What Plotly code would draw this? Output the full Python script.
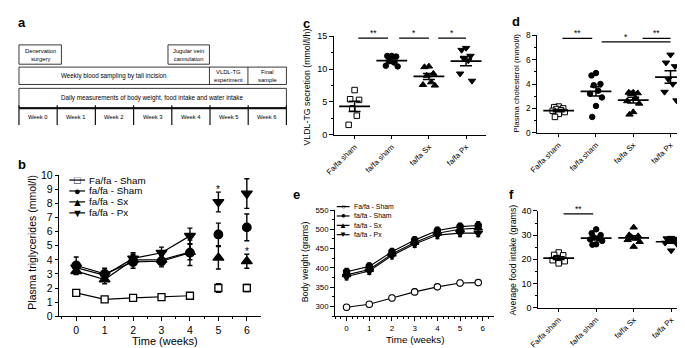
import numpy as np
import plotly.graph_objects as go

W, H = 685, 348
FONT = "Liberation Sans, Arial, sans-serif"


def fx(p):
    return p / W


def fy(p):
    return 1 - p / H


# ---------------- data ----------------
# panel b : plasma triglycerides (mmol/l)
WEEKS = [0, 1, 2, 3, 4, 5, 6]
N_JOINED = 5  # weeks 0-4 are joined by lines
SERIES_NAMES = ["Fa/fa - Sham", "fa/fa - Sham", "fa/fa - Sx", "fa/fa - Px"]
TG_LEAN_SHAM = [1.65, 1.2, 1.3, 1.35, 1.45, 2.0, 2.0]
TG_LEAN_SHAM_SEM = [0.08, 0.07, 0.07, 0.07, 0.07, 0.3, 0.25]
TG_OBESE_SHAM = [3.6, 3.0, 3.85, 3.9, 4.5, 5.8, 6.3]
TG_OBESE_SHAM_SEM = [0.6, 0.4, 0.45, 0.4, 0.9, 0.8, 0.95]
TG_SX = [3.2, 2.6, 4.0, 4.0, 4.55, 4.15, 3.9]
TG_SX_SEM = [0.25, 0.3, 0.4, 0.35, 0.55, 0.8, 0.5]
TG_PX = [3.45, 2.9, 4.1, 4.5, 5.7, 8.1, 8.7]
TG_PX_SEM = [0.3, 0.35, 0.4, 0.4, 0.55, 0.7, 1.05]
TG_STAR_WEEKS = [5, 6]
TG_STAR_Y = [9.0, 4.6]

# panel e : body weight (grams)
BW_WEEKS = [0, 1, 2, 3, 4, 5, 5.8]
BW_LEAN_SHAM = [298, 306, 322, 338, 351, 361, 362]
BW_LEAN_SHAM_SEM = [6, 7, 7, 7, 7, 7, 7]
BW_OBESE_SHAM = [390, 404, 442, 472, 497, 507, 510]
BW_OBESE_SHAM_SEM = [9, 9, 9, 9, 9, 9, 10]
BW_SX = [382, 396, 436, 466, 490, 500, 503]
BW_SX_SEM = [9, 9, 9, 9, 9, 9, 9]
BW_PX = [378, 392, 432, 462, 485, 490, 490]
BW_PX_SEM = [9, 9, 9, 9, 9, 9, 9]

# panels c, d, f : dot plots
CATEGORIES = ["Fa/fa sham", "fa/fa sham", "fa/fa Sx", "fa/fa Px"]
VLDL_LEAN_SHAM = [6.8, 5.4, 5.3, 4.0, 2.9, 1.5]
VLDL_OBESE_SHAM = [12.0, 11.9, 12.0, 11.2, 11.0, 10.5, 10.4]
VLDL_SX = [10.4, 10.3, 9.3, 9.0, 8.0, 7.5, 7.6]
VLDL_PX = [13.2, 12.9, 12.0, 11.6, 11.3, 9.3, 8.2]
VLDL_SIG_X0 = [0.1, 1.2, 2.25]
VLDL_SIG_X1 = [0.9, 2.0, 3.0]
VLDL_SIG_Y = [14.7, 14.7, 14.7]
VLDL_SIG_TEXT = ["**", "*", "*"]

CHOL_LEAN_SHAM = [2.15, 2.1, 2.0, 1.95, 1.85, 1.8, 1.7, 1.55, 1.3]
CHOL_OBESE_SHAM = [4.9, 4.7, 4.0, 3.9, 3.45, 3.2, 2.9, 2.2, 1.3]
CHOL_SX = [3.3, 3.3, 3.25, 3.2, 2.85, 2.6, 2.4, 1.7, 1.5]
CHOL_PX = [6.4, 5.75, 5.45, 4.4, 4.0, 3.35, 2.65]
CHOL_SIG_X0 = [0.1, 1.15, 2.25]
CHOL_SIG_X1 = [0.9, 3.0, 3.0]
CHOL_SIG_Y = [7.75, 7.45, 7.75]
CHOL_SIG_STAR_X = [0.5, 1.8, 2.62]
CHOL_SIG_TEXT = ["**", "*", "**"]

FOOD_LEAN_SHAM = [22.8, 21.8, 21.6, 20.4, 20.0, 19.6, 19.2, 18.3]
FOOD_OBESE_SHAM = [32.4, 30.8, 30.0, 29.0, 28.6, 28.2, 27.6, 26.2, 26.0]
FOOD_SX = [33.2, 30.0, 29.6, 29.2, 28.6, 28.0, 27.2, 25.2]
FOOD_PX = [28.8, 28.6, 28.4, 28.0, 27.6, 26.8, 26.2, 23.6]
FOOD_SIG_X0 = [0.13]
FOOD_SIG_X1 = [0.92]
FOOD_SIG_Y = [38.8]
FOOD_SIG_TEXT = ["**"]

# panel a : protocol schematic
WEEK_LABELS = ["Week 0", "Week 1", "Week 2", "Week 3", "Week 4", "Week 5", "Week 6"]

# ---------------- style ----------------
SYMBOLS = ["square", "circle", "triangle-up", "triangle-down"]
FILLS = ["white", "black", "black", "black"]
JITTER = [0.0, -0.12, 0.12, -0.06, 0.06, -0.16, 0.16, 0.0, -0.1]

fig = go.Figure()
shapes = []
annotations = []


def ann(text, x, y, size, xanchor="center", yanchor="middle", angle=0,
        bold=False, xref="paper", yref="paper"):
    if xref == "paper":
        x = fx(x)
    if yref == "paper":
        y = fy(y)
    annotations.append(dict(
        text=f"<b>{text}</b>" if bold else text, x=x, y=y, xref=xref, yref=yref,
        xanchor=xanchor, yanchor=yanchor, textangle=angle, showarrow=False,
        font=dict(family=FONT, size=size, color="black"), borderpad=0))


def line_shape(x0, y0, x1, y1, w=0.8, color="#222"):
    shapes.append(dict(type="line", xref="paper", yref="paper", x0=fx(x0), x1=fx(x1),
                       y0=fy(y0), y1=fy(y1), line=dict(color=color, width=w)))


def rect_shape(x0, y0, x1, y1, w=0.9):
    shapes.append(dict(type="rect", xref="paper", yref="paper", x0=fx(x0), x1=fx(x1),
                       y0=fy(y1), y1=fy(y0), line=dict(color="#222", width=w)))


# ---------------- panel a ----------------
ann("a", 5, 9, 13, bold=True)
rect_shape(2, 32, 45, 52)
ann("Denervation<br>surgery", 23.5, 42, 5.8)
rect_shape(153, 32, 195, 52)
ann("Jugular vein<br>cannulation", 174, 42, 5.8)
rect_shape(2, 55, 273, 73)
line_shape(195, 55, 195, 73, w=0.9)
line_shape(234, 55, 234, 73, w=0.9)
ann("Weekly blood sampling by tail incision", 98, 64, 6.3)
ann("VLDL-TG<br>experiment", 214.5, 64, 5.8)
ann("Final<br>sample", 253.5, 64, 5.8)
rect_shape(2, 77, 273, 97)
ann("Daily measurements of body weight, food intake and water intake", 137, 87, 6.3)
line_shape(2, 97.5, 273, 97.5, w=2, color="#111")
bounds = np.linspace(2, 273, len(WEEK_LABELS) + 1)
for bx in bounds:
    line_shape(bx, 94.5, bx, 115, w=1.2, color="#111")
for i, lab in enumerate(WEEK_LABELS):
    ann(lab, (bounds[i] + bounds[i + 1]) / 2, 107, 5.8)

# ---------------- panel b ----------------
b_vals = [TG_LEAN_SHAM, TG_OBESE_SHAM, TG_SX, TG_PX]
b_sems = [TG_LEAN_SHAM_SEM, TG_OBESE_SHAM_SEM, TG_SX_SEM, TG_PX_SEM]
b_sizes = [7, 8.5, 9.5, 9.5]
for k in range(4):
    fig.add_trace(go.Scatter(
        x=WEEKS[:N_JOINED], y=b_vals[k][:N_JOINED], mode="lines",
        line=dict(color="black", width=1.2), xaxis="x", yaxis="y", hoverinfo="skip"))
for k in [1, 2, 3, 0]:
    fig.add_trace(go.Scatter(
        x=WEEKS, y=b_vals[k], mode="markers", name=SERIES_NAMES[k],
        marker=dict(symbol=SYMBOLS[k], size=b_sizes[k], color=FILLS[k],
                    line=dict(color="black", width=1.3)),
        error_y=dict(type="data", array=b_sems[k], color="black", thickness=1.4, width=2.5),
        xaxis="x", yaxis="y"))
for wk, yv in zip(TG_STAR_WEEKS, TG_STAR_Y):
    ann("*", wk, yv, 10, xref="x", yref="y")

# ---------------- panel e ----------------
e_vals = [BW_LEAN_SHAM, BW_OBESE_SHAM, BW_SX, BW_PX]
e_sems = [BW_LEAN_SHAM_SEM, BW_OBESE_SHAM_SEM, BW_SX_SEM, BW_PX_SEM]
e_sym = ["circle", "circle", "triangle-up", "triangle-down"]
e_sizes = [6.5, 6.5, 7.5, 7.5]
for k in [1, 2, 3, 0]:
    fig.add_trace(go.Scatter(
        x=BW_WEEKS, y=e_vals[k], mode="lines+markers", name=SERIES_NAMES[k],
        line=dict(color="black", width=1.1),
        marker=dict(symbol=e_sym[k], size=e_sizes[k], color=FILLS[k],
                    line=dict(color="black", width=1.1)),
        error_y=dict(type="data", array=e_sems[k], color="black", thickness=1.1, width=2),
        xaxis="x4", yaxis="y4"))


# ---------------- dot plots c, d, f ----------------
def dot_panel(groups, xa, ya, sig_x0, sig_x1, sig_y, sig_text, star_x=None,
              mean_len=22, dot=5.5):
    for i, vals in enumerate(groups):
        order = np.argsort(vals)[::-1]
        xs = [i + JITTER[r % len(JITTER)] for r in range(len(vals))]
        ys = [vals[j] for j in order]
        size = dot + 1 if "triangle" in SYMBOLS[i] else dot
        fig.add_trace(go.Scatter(
            x=xs, y=ys, mode="markers",
            marker=dict(symbol=SYMBOLS[i], size=size, color=FILLS[i],
                        line=dict(color="black", width=1)),
            xaxis=xa, yaxis=ya))
        arr = np.array(vals, dtype=float)
        mean = arr.mean()
        sem = arr.std(ddof=1) / np.sqrt(len(arr))
        fig.add_trace(go.Scatter(
            x=[i], y=[mean], mode="markers",
            marker=dict(symbol="line-ew", size=mean_len, color="black",
                        line=dict(color="black", width=1.7)),
            error_y=dict(type="data", array=[sem], color="black", thickness=1.5, width=6),
            xaxis=xa, yaxis=ya))
    for n, (a0, a1, yv) in enumerate(zip(sig_x0, sig_x1, sig_y)):
        fig.add_trace(go.Scatter(x=[a0, a1], y=[yv, yv], mode="lines",
                                 line=dict(color="black", width=1.3),
                                 xaxis=xa, yaxis=ya))
        sx = star_x[n] if star_x else (a0 + a1) / 2
        annotations.append(dict(text=sig_text[n], x=sx, y=yv, xref=xa, yref=ya,
                                xanchor="center", yanchor="bottom", showarrow=False,
                                yshift=-2, font=dict(family=FONT, size=8.5, color="black")))


dot_panel([VLDL_LEAN_SHAM, VLDL_OBESE_SHAM, VLDL_SX, VLDL_PX], "x2", "y2",
          VLDL_SIG_X0, VLDL_SIG_X1, VLDL_SIG_Y, VLDL_SIG_TEXT)
dot_panel([CHOL_LEAN_SHAM, CHOL_OBESE_SHAM, CHOL_SX, CHOL_PX], "x3", "y3",
          CHOL_SIG_X0, CHOL_SIG_X1, CHOL_SIG_Y, CHOL_SIG_TEXT, star_x=CHOL_SIG_STAR_X)
dot_panel([FOOD_LEAN_SHAM, FOOD_OBESE_SHAM, FOOD_SX, FOOD_PX], "x5", "y5",
          FOOD_SIG_X0, FOOD_SIG_X1, FOOD_SIG_Y, FOOD_SIG_TEXT)


# ---------------- manual legends ----------------
def legend(rows_y, x_line0, x_line1, x_text, size, msize, symbols):
    glyph = {"square": "\u25a1", "circle": "\u25cf", "circle-open": "\u25cb",
             "triangle-up": "\u25b2", "triangle-down": "\u25bc"}
    for k, yy in enumerate(rows_y):
        line_shape(x_line0, yy, x_line1, yy, w=1.2, color="black")
        ann(glyph[symbols[k]], (x_line0 + x_line1) / 2, yy, msize)
        ann(SERIES_NAMES[k], x_text, yy, size, xanchor="left")


legend([172, 183.3, 194.6, 206], 53, 69, 72, 9.8, 11,
       ["square", "circle", "triangle-up", "triangle-down"])
legend([199.5, 209.2, 218.9, 228.6], 324, 337, 340, 6.9, 8,
       ["circle-open", "circle", "triangle-up", "triangle-down"])

# ---------------- titles / labels ----------------
ann("b", 5, 156, 13, bold=True)
ann("c", 293, 10, 13, bold=True)
ann("d", 506, 8, 13, bold=True)
ann("e", 283, 187, 13, bold=True)
ann("f", 501, 187, 13, bold=True)

ann("Plasma triglycerides (mmol/l)", 15, 236, 10.5, angle=-90)
ann("Time (weeks)", 150, 339, 11)
ann("Body weight (grams)", 292, 257, 8.8, angle=-90)
ann("Time (weeks)", 403, 337, 9.8)
ann("VLDL-TG secretion (mmol/l/h)", 294, 76, 8.8, angle=-90)
ann("Plasma cholesterol (mmol/l)", 506, 72, 8, angle=-90)
ann("Average food intake (grams)", 503, 255, 8.8, angle=-90)


# ---------------- axes ----------------
def ax(domain_px, rng, anchor, vertical, size, dtick=None, minor=None, tickvals=None,
       ticktext=None, angle=0):
    if vertical:
        dom = [fy(domain_px[1]), fy(domain_px[0])]
    else:
        dom = [fx(domain_px[0]), fx(domain_px[1])]
    d = dict(domain=dom, range=rng, anchor=anchor, showline=True, linecolor="black",
             linewidth=1.4, ticks="outside", ticklen=3.5, tickwidth=1.2, tickcolor="black",
             showgrid=False, zeroline=False, fixedrange=True,
             tickfont=dict(family=FONT, size=size, color="black"), tickangle=angle)
    if dtick is not None:
        d["dtick"] = dtick
        d["tick0"] = 0
    if tickvals is not None:
        d["tickvals"] = tickvals
        d["ticktext"] = ticktext
    if minor is not None:
        d["minor"] = dict(dtick=minor, ticklen=2, tickwidth=1, tickcolor="black",
                          ticks="outside")
    return d


cat_idx = list(range(len(CATEGORIES)))
fig.update_layout(
    width=W, height=H, margin=dict(l=0, r=0, t=0, b=0),
    paper_bgcolor="white", plot_bgcolor="rgba(0,0,0,0)", showlegend=False,
    font=dict(family=FONT, color="black"),
    # b
    xaxis=ax([43, 247], [-0.59, 6.49], "y", False, 10.5, dtick=1, minor=0.5),
    yaxis=ax([167, 313], [0, 10], "x", True, 10.5, dtick=1),
    # c
    xaxis2=ax([321, 475], [-0.56, 3.53], "y2", False, 7.8, tickvals=cat_idx,
              ticktext=CATEGORIES, angle=-45),
    yaxis2=ax([23, 125], [0, 15], "x2", True, 9, dtick=5, minor=2.5),
    # d
    xaxis3=ax([527, 683], [-0.58, 3.55], "y3", False, 7.8, tickvals=cat_idx,
              ticktext=CATEGORIES, angle=-45),
    yaxis3=ax([22, 123], [0, 8], "x3", True, 8.3, dtick=2, minor=1),
    # e
    xaxis4=ax([322, 483], [-0.52, 6.48], "y4", False, 8, dtick=1, minor=0.25),
    yaxis4=ax([203, 313], [275, 550], "x4", True, 7.8, dtick=50, minor=25),
    # f
    xaxis5=ax([528, 683], [-0.55, 3.53], "y5", False, 7.8, tickvals=cat_idx,
              ticktext=CATEGORIES, angle=-45),
    yaxis5=ax([204, 304], [0, 40], "x5", True, 9, dtick=10, minor=5),
    shapes=shapes, annotations=annotations,
)

fig.write_html("out.html")
